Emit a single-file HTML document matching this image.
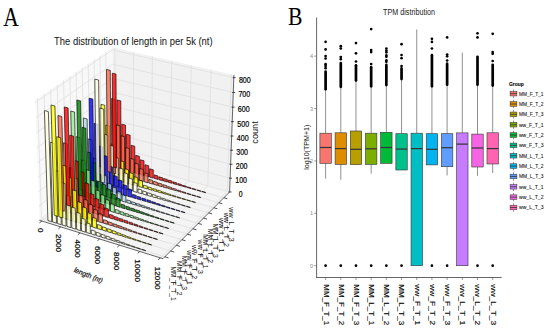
<!DOCTYPE html>
<html><head><meta charset="utf-8"><style>
html,body{margin:0;padding:0;background:#fff;}
body{width:550px;height:331px;overflow:hidden;position:relative;}
svg{position:absolute;left:0;top:0;font-family:"Liberation Sans",sans-serif;}
</style></head><body>
<svg width="550" height="331" viewBox="0 0 550 331">
<polygon points="39.43,220.28 113.23,159.94 112.47,47.35 35.21,99.76" fill="#f8f8f8"/>
<polygon points="113.23,159.94 229.61,191.98 233.93,74.98 112.47,47.35" fill="#f1f1f1"/>
<polygon points="39.43,220.28 162.95,258.66 229.61,191.98 113.23,159.94" fill="#f4f4f4"/>
<line x1="41.78" y1="221.00" x2="115.45" y2="160.55" stroke="#dddddd" stroke-width="0.75"/>
<line x1="115.45" y1="160.55" x2="114.78" y2="47.88" stroke="#dddddd" stroke-width="0.75"/>
<line x1="60.72" y1="226.89" x2="133.36" y2="165.48" stroke="#dddddd" stroke-width="0.75"/>
<line x1="133.36" y1="165.48" x2="133.44" y2="52.12" stroke="#dddddd" stroke-width="0.75"/>
<line x1="79.97" y1="232.87" x2="151.54" y2="170.49" stroke="#dddddd" stroke-width="0.75"/>
<line x1="151.54" y1="170.49" x2="152.40" y2="56.44" stroke="#dddddd" stroke-width="0.75"/>
<line x1="99.56" y1="238.96" x2="170.01" y2="175.57" stroke="#dddddd" stroke-width="0.75"/>
<line x1="170.01" y1="175.57" x2="171.67" y2="60.82" stroke="#dddddd" stroke-width="0.75"/>
<line x1="119.47" y1="245.15" x2="188.76" y2="180.73" stroke="#dddddd" stroke-width="0.75"/>
<line x1="188.76" y1="180.73" x2="191.25" y2="65.27" stroke="#dddddd" stroke-width="0.75"/>
<line x1="139.73" y1="251.45" x2="207.81" y2="185.98" stroke="#dddddd" stroke-width="0.75"/>
<line x1="207.81" y1="185.98" x2="211.15" y2="69.79" stroke="#dddddd" stroke-width="0.75"/>
<line x1="160.34" y1="257.85" x2="227.16" y2="191.31" stroke="#dddddd" stroke-width="0.75"/>
<line x1="227.16" y1="191.31" x2="231.38" y2="74.39" stroke="#dddddd" stroke-width="0.75"/>
<line x1="41.54" y1="218.56" x2="164.86" y2="256.75" stroke="#dddddd" stroke-width="0.75"/>
<line x1="41.54" y1="218.56" x2="37.43" y2="98.26" stroke="#dddddd" stroke-width="0.75"/>
<line x1="47.90" y1="213.35" x2="170.63" y2="250.98" stroke="#dddddd" stroke-width="0.75"/>
<line x1="47.90" y1="213.35" x2="44.11" y2="93.72" stroke="#dddddd" stroke-width="0.75"/>
<line x1="54.17" y1="208.22" x2="176.31" y2="245.29" stroke="#dddddd" stroke-width="0.75"/>
<line x1="54.17" y1="208.22" x2="50.69" y2="89.26" stroke="#dddddd" stroke-width="0.75"/>
<line x1="60.36" y1="203.17" x2="181.91" y2="239.69" stroke="#dddddd" stroke-width="0.75"/>
<line x1="60.36" y1="203.17" x2="57.18" y2="84.86" stroke="#dddddd" stroke-width="0.75"/>
<line x1="66.45" y1="198.18" x2="187.42" y2="234.18" stroke="#dddddd" stroke-width="0.75"/>
<line x1="66.45" y1="198.18" x2="63.57" y2="80.52" stroke="#dddddd" stroke-width="0.75"/>
<line x1="72.46" y1="193.27" x2="192.86" y2="228.74" stroke="#dddddd" stroke-width="0.75"/>
<line x1="72.46" y1="193.27" x2="69.87" y2="76.25" stroke="#dddddd" stroke-width="0.75"/>
<line x1="78.39" y1="188.42" x2="198.21" y2="223.38" stroke="#dddddd" stroke-width="0.75"/>
<line x1="78.39" y1="188.42" x2="76.07" y2="72.04" stroke="#dddddd" stroke-width="0.75"/>
<line x1="84.24" y1="183.64" x2="203.49" y2="218.10" stroke="#dddddd" stroke-width="0.75"/>
<line x1="84.24" y1="183.64" x2="82.19" y2="67.89" stroke="#dddddd" stroke-width="0.75"/>
<line x1="90.00" y1="178.93" x2="208.69" y2="212.90" stroke="#dddddd" stroke-width="0.75"/>
<line x1="90.00" y1="178.93" x2="88.22" y2="63.81" stroke="#dddddd" stroke-width="0.75"/>
<line x1="95.69" y1="174.28" x2="213.82" y2="207.77" stroke="#dddddd" stroke-width="0.75"/>
<line x1="95.69" y1="174.28" x2="94.16" y2="59.77" stroke="#dddddd" stroke-width="0.75"/>
<line x1="101.30" y1="169.69" x2="218.87" y2="202.72" stroke="#dddddd" stroke-width="0.75"/>
<line x1="101.30" y1="169.69" x2="100.02" y2="55.80" stroke="#dddddd" stroke-width="0.75"/>
<line x1="106.83" y1="165.17" x2="223.85" y2="197.73" stroke="#dddddd" stroke-width="0.75"/>
<line x1="106.83" y1="165.17" x2="105.80" y2="51.88" stroke="#dddddd" stroke-width="0.75"/>
<line x1="39.43" y1="220.28" x2="113.23" y2="159.94" stroke="#dddddd" stroke-width="0.75"/>
<line x1="113.23" y1="159.94" x2="229.61" y2="191.98" stroke="#dddddd" stroke-width="0.75"/>
<line x1="38.94" y1="206.11" x2="113.14" y2="146.66" stroke="#dddddd" stroke-width="0.75"/>
<line x1="113.14" y1="146.66" x2="230.11" y2="178.21" stroke="#dddddd" stroke-width="0.75"/>
<line x1="38.43" y1="191.80" x2="113.05" y2="133.26" stroke="#dddddd" stroke-width="0.75"/>
<line x1="113.05" y1="133.26" x2="230.63" y2="164.29" stroke="#dddddd" stroke-width="0.75"/>
<line x1="37.93" y1="177.32" x2="112.96" y2="119.72" stroke="#dddddd" stroke-width="0.75"/>
<line x1="112.96" y1="119.72" x2="231.15" y2="150.23" stroke="#dddddd" stroke-width="0.75"/>
<line x1="37.42" y1="162.69" x2="112.87" y2="106.04" stroke="#dddddd" stroke-width="0.75"/>
<line x1="112.87" y1="106.04" x2="231.67" y2="136.02" stroke="#dddddd" stroke-width="0.75"/>
<line x1="36.90" y1="147.90" x2="112.77" y2="92.22" stroke="#dddddd" stroke-width="0.75"/>
<line x1="112.77" y1="92.22" x2="232.21" y2="121.66" stroke="#dddddd" stroke-width="0.75"/>
<line x1="36.38" y1="132.94" x2="112.68" y2="78.27" stroke="#dddddd" stroke-width="0.75"/>
<line x1="112.68" y1="78.27" x2="232.74" y2="107.15" stroke="#dddddd" stroke-width="0.75"/>
<line x1="35.85" y1="117.82" x2="112.58" y2="64.17" stroke="#dddddd" stroke-width="0.75"/>
<line x1="112.58" y1="64.17" x2="233.28" y2="92.49" stroke="#dddddd" stroke-width="0.75"/>
<line x1="35.31" y1="102.53" x2="112.49" y2="49.93" stroke="#dddddd" stroke-width="0.75"/>
<line x1="112.49" y1="49.93" x2="233.83" y2="77.66" stroke="#dddddd" stroke-width="0.75"/>
<polygon points="135.67,173.19 139.35,174.22 139.40,156.29 135.70,155.29" fill="#ff0000" fill-opacity="0.8" stroke="#000" stroke-width="0.7" stroke-opacity="0.9" stroke-linejoin="round"/>
<polygon points="140.28,174.47 143.97,175.50 144.04,160.79 140.32,159.78" fill="#ff0000" fill-opacity="0.8" stroke="#000" stroke-width="0.7" stroke-opacity="0.9" stroke-linejoin="round"/>
<polygon points="144.90,175.76 148.61,176.79 148.68,165.76 144.95,164.74" fill="#ff0000" fill-opacity="0.8" stroke="#000" stroke-width="0.7" stroke-opacity="0.9" stroke-linejoin="round"/>
<polygon points="154.20,178.35 157.93,179.39 157.97,175.89 154.23,174.86" fill="#ff0000" fill-opacity="0.8" stroke="#000" stroke-width="0.7" stroke-opacity="0.9" stroke-linejoin="round"/>
<polygon points="149.54,177.05 153.26,178.09 153.33,169.81 149.60,168.78" fill="#ff0000" fill-opacity="0.8" stroke="#000" stroke-width="0.7" stroke-opacity="0.9" stroke-linejoin="round"/>
<polygon points="131.08,171.92 134.75,172.94 134.78,146.23 131.08,145.24" fill="#ff0000" fill-opacity="0.8" stroke="#000" stroke-width="0.7" stroke-opacity="0.9" stroke-linejoin="round"/>
<polygon points="158.88,179.65 162.63,180.69 162.66,177.84 158.90,176.80" fill="#ff0000" fill-opacity="0.8" stroke="#000" stroke-width="0.7" stroke-opacity="0.9" stroke-linejoin="round"/>
<polygon points="126.52,170.65 130.17,171.66 130.15,135.21 126.45,134.24" fill="#ff0000" fill-opacity="0.8" stroke="#000" stroke-width="0.7" stroke-opacity="0.9" stroke-linejoin="round"/>
<polygon points="163.57,180.96 167.34,182.01 167.37,179.52 163.60,178.47" fill="#ff0000" fill-opacity="0.8" stroke="#000" stroke-width="0.7" stroke-opacity="0.9" stroke-linejoin="round"/>
<polygon points="168.28,182.27 172.07,183.32 172.10,181.11 168.31,180.06" fill="#ff0000" fill-opacity="0.8" stroke="#000" stroke-width="0.7" stroke-opacity="0.9" stroke-linejoin="round"/>
<polygon points="121.96,169.38 125.60,170.39 125.50,125.09 121.80,124.13" fill="#ff0000" fill-opacity="0.8" stroke="#000" stroke-width="0.7" stroke-opacity="0.9" stroke-linejoin="round"/>
<polygon points="130.27,177.83 133.96,178.87 133.98,159.41 130.26,158.39" fill="#fb6a4e" fill-opacity="0.8" stroke="#000" stroke-width="0.7" stroke-opacity="0.9" stroke-linejoin="round"/>
<polygon points="134.89,179.13 138.60,180.17 138.64,164.20 134.91,163.18" fill="#fb6a4e" fill-opacity="0.8" stroke="#000" stroke-width="0.7" stroke-opacity="0.9" stroke-linejoin="round"/>
<polygon points="139.53,180.43 143.26,181.48 143.31,169.50 139.57,168.47" fill="#fb6a4e" fill-opacity="0.8" stroke="#000" stroke-width="0.7" stroke-opacity="0.9" stroke-linejoin="round"/>
<polygon points="148.88,183.06 152.63,184.11 152.66,180.32 148.90,179.27" fill="#fb6a4e" fill-opacity="0.8" stroke="#000" stroke-width="0.7" stroke-opacity="0.9" stroke-linejoin="round"/>
<polygon points="173.02,183.59 176.81,184.64 176.84,182.89 173.04,181.83" fill="#ff0000" fill-opacity="0.8" stroke="#000" stroke-width="0.7" stroke-opacity="0.9" stroke-linejoin="round"/>
<polygon points="144.20,181.74 147.94,182.79 147.99,173.81 144.24,172.77" fill="#fb6a4e" fill-opacity="0.8" stroke="#000" stroke-width="0.7" stroke-opacity="0.9" stroke-linejoin="round"/>
<polygon points="153.58,184.38 157.34,185.44 157.37,182.34 153.60,181.28" fill="#fb6a4e" fill-opacity="0.8" stroke="#000" stroke-width="0.7" stroke-opacity="0.9" stroke-linejoin="round"/>
<polygon points="125.66,176.54 129.34,177.57 129.32,148.57 125.60,147.57" fill="#fb6a4e" fill-opacity="0.8" stroke="#000" stroke-width="0.7" stroke-opacity="0.9" stroke-linejoin="round"/>
<polygon points="177.77,184.91 181.58,185.97 181.60,184.58 177.79,183.52" fill="#ff0000" fill-opacity="0.8" stroke="#000" stroke-width="0.7" stroke-opacity="0.9" stroke-linejoin="round"/>
<polygon points="158.29,185.70 162.08,186.76 162.11,184.06 158.32,183.00" fill="#fb6a4e" fill-opacity="0.8" stroke="#000" stroke-width="0.7" stroke-opacity="0.9" stroke-linejoin="round"/>
<polygon points="124.78,182.53 128.50,183.58 128.48,169.78 124.75,168.75" fill="#ffff00" fill-opacity="0.8" stroke="#000" stroke-width="0.7" stroke-opacity="0.9" stroke-linejoin="round"/>
<polygon points="182.54,186.24 186.36,187.30 186.38,186.28 182.56,185.22" fill="#ff0000" fill-opacity="0.8" stroke="#000" stroke-width="0.7" stroke-opacity="0.9" stroke-linejoin="round"/>
<polygon points="129.43,183.85 133.16,184.90 133.17,173.57 129.42,172.53" fill="#ffff00" fill-opacity="0.8" stroke="#000" stroke-width="0.7" stroke-opacity="0.9" stroke-linejoin="round"/>
<polygon points="121.07,175.25 124.73,176.28 124.64,136.68 120.91,135.70" fill="#fb6a4e" fill-opacity="0.8" stroke="#000" stroke-width="0.7" stroke-opacity="0.9" stroke-linejoin="round"/>
<polygon points="120.16,181.22 123.85,182.27 123.80,161.72 120.07,160.70" fill="#ffff00" fill-opacity="0.8" stroke="#000" stroke-width="0.7" stroke-opacity="0.9" stroke-linejoin="round"/>
<polygon points="134.10,185.17 137.84,186.23 137.86,177.73 134.11,176.68" fill="#ffff00" fill-opacity="0.8" stroke="#000" stroke-width="0.7" stroke-opacity="0.9" stroke-linejoin="round"/>
<polygon points="163.03,187.03 166.83,188.10 166.86,185.70 163.06,184.63" fill="#fb6a4e" fill-opacity="0.8" stroke="#000" stroke-width="0.7" stroke-opacity="0.9" stroke-linejoin="round"/>
<polygon points="187.33,187.57 191.17,188.64 191.18,187.89 187.34,186.83" fill="#ff0000" fill-opacity="0.8" stroke="#000" stroke-width="0.7" stroke-opacity="0.9" stroke-linejoin="round"/>
<polygon points="138.78,186.50 142.54,187.56 142.56,181.18 138.80,180.13" fill="#ffff00" fill-opacity="0.8" stroke="#000" stroke-width="0.7" stroke-opacity="0.9" stroke-linejoin="round"/>
<polygon points="115.55,179.91 119.23,180.95 119.10,152.94 115.38,151.92" fill="#ffff00" fill-opacity="0.8" stroke="#000" stroke-width="0.7" stroke-opacity="0.9" stroke-linejoin="round"/>
<polygon points="143.48,187.83 147.25,188.90 147.27,186.21 143.49,185.14" fill="#ffff00" fill-opacity="0.8" stroke="#000" stroke-width="0.7" stroke-opacity="0.9" stroke-linejoin="round"/>
<polygon points="117.43,168.12 121.05,169.13 120.79,100.89 117.07,99.97" fill="#ff0000" fill-opacity="0.8" stroke="#000" stroke-width="0.7" stroke-opacity="0.9" stroke-linejoin="round"/>
<polygon points="116.50,173.96 120.15,174.99 119.94,125.77 116.22,124.80" fill="#fb6a4e" fill-opacity="0.8" stroke="#000" stroke-width="0.7" stroke-opacity="0.9" stroke-linejoin="round"/>
<polygon points="167.78,188.37 171.60,189.44 171.63,187.53 167.81,186.46" fill="#fb6a4e" fill-opacity="0.8" stroke="#000" stroke-width="0.7" stroke-opacity="0.9" stroke-linejoin="round"/>
<polygon points="110.95,178.61 114.62,179.65 114.40,144.85 110.69,143.86" fill="#ffff00" fill-opacity="0.8" stroke="#000" stroke-width="0.7" stroke-opacity="0.9" stroke-linejoin="round"/>
<polygon points="192.13,188.91 195.99,189.98 196.00,189.42 192.15,188.35" fill="#ff0000" fill-opacity="0.8" stroke="#000" stroke-width="0.7" stroke-opacity="0.9" stroke-linejoin="round"/>
<polygon points="148.20,189.17 151.99,190.24 152.01,188.04 148.22,186.97" fill="#ffff00" fill-opacity="0.8" stroke="#000" stroke-width="0.7" stroke-opacity="0.9" stroke-linejoin="round"/>
<polygon points="172.56,189.71 176.39,190.78 176.41,189.28 172.58,188.20" fill="#fb6a4e" fill-opacity="0.8" stroke="#000" stroke-width="0.7" stroke-opacity="0.9" stroke-linejoin="round"/>
<polygon points="196.96,190.25 200.83,191.33 200.84,190.95 196.97,189.88" fill="#ff0000" fill-opacity="0.8" stroke="#000" stroke-width="0.7" stroke-opacity="0.9" stroke-linejoin="round"/>
<polygon points="152.94,190.51 156.74,191.59 156.76,189.67 152.96,188.60" fill="#ffff00" fill-opacity="0.8" stroke="#000" stroke-width="0.7" stroke-opacity="0.9" stroke-linejoin="round"/>
<polygon points="177.35,191.06 181.20,192.13 181.22,191.03 177.37,189.95" fill="#fb6a4e" fill-opacity="0.8" stroke="#000" stroke-width="0.7" stroke-opacity="0.9" stroke-linejoin="round"/>
<polygon points="201.81,191.60 205.69,192.68 205.70,192.40 201.82,191.32" fill="#ff0000" fill-opacity="0.8" stroke="#000" stroke-width="0.7" stroke-opacity="0.9" stroke-linejoin="round"/>
<polygon points="157.70,191.86 161.52,192.94 161.54,191.24 157.72,190.16" fill="#ffff00" fill-opacity="0.8" stroke="#000" stroke-width="0.7" stroke-opacity="0.9" stroke-linejoin="round"/>
<polygon points="182.16,192.41 186.02,193.49 186.04,192.69 182.18,191.60" fill="#fb6a4e" fill-opacity="0.8" stroke="#000" stroke-width="0.7" stroke-opacity="0.9" stroke-linejoin="round"/>
<polygon points="119.23,187.30 122.96,188.36 122.90,168.97 119.14,167.93" fill="#ffffe0" fill-opacity="0.8" stroke="#000" stroke-width="0.7" stroke-opacity="0.9" stroke-linejoin="round"/>
<polygon points="106.38,177.31 110.03,178.35 109.61,126.04 105.89,125.07" fill="#ffff00" fill-opacity="0.8" stroke="#000" stroke-width="0.7" stroke-opacity="0.9" stroke-linejoin="round"/>
<polygon points="123.90,188.63 127.64,189.70 127.62,173.79 123.85,172.74" fill="#ffffe0" fill-opacity="0.8" stroke="#000" stroke-width="0.7" stroke-opacity="0.9" stroke-linejoin="round"/>
<polygon points="128.58,189.97 132.34,191.05 132.35,179.11 128.57,178.05" fill="#ffffe0" fill-opacity="0.8" stroke="#000" stroke-width="0.7" stroke-opacity="0.9" stroke-linejoin="round"/>
<polygon points="162.48,193.22 166.31,194.30 166.33,192.95 162.49,191.86" fill="#ffff00" fill-opacity="0.8" stroke="#000" stroke-width="0.7" stroke-opacity="0.9" stroke-linejoin="round"/>
<polygon points="138.01,192.67 141.80,193.76 141.82,189.98 138.02,188.90" fill="#ffffe0" fill-opacity="0.8" stroke="#000" stroke-width="0.7" stroke-opacity="0.9" stroke-linejoin="round"/>
<polygon points="133.29,191.32 137.06,192.40 137.08,183.45 133.29,182.38" fill="#ffffe0" fill-opacity="0.8" stroke="#000" stroke-width="0.7" stroke-opacity="0.9" stroke-linejoin="round"/>
<polygon points="186.99,193.76 190.87,194.85 190.88,194.25 187.01,193.16" fill="#fb6a4e" fill-opacity="0.8" stroke="#000" stroke-width="0.7" stroke-opacity="0.9" stroke-linejoin="round"/>
<polygon points="114.58,185.96 118.29,187.03 118.15,158.13 114.40,157.10" fill="#ffffe0" fill-opacity="0.8" stroke="#000" stroke-width="0.7" stroke-opacity="0.9" stroke-linejoin="round"/>
<polygon points="142.76,194.03 146.56,195.12 146.58,192.03 142.77,190.95" fill="#ffffe0" fill-opacity="0.8" stroke="#000" stroke-width="0.7" stroke-opacity="0.9" stroke-linejoin="round"/>
<polygon points="167.28,194.58 171.12,195.67 171.14,194.60 167.29,193.51" fill="#ffff00" fill-opacity="0.8" stroke="#000" stroke-width="0.7" stroke-opacity="0.9" stroke-linejoin="round"/>
<polygon points="111.94,172.68 115.58,173.70 115.14,99.51 111.40,98.58" fill="#fb6a4e" fill-opacity="0.8" stroke="#000" stroke-width="0.7" stroke-opacity="0.9" stroke-linejoin="round"/>
<polygon points="112.91,166.86 116.52,167.86 116.00,74.05 112.27,73.16" fill="#ff0000" fill-opacity="0.8" stroke="#000" stroke-width="0.7" stroke-opacity="0.9" stroke-linejoin="round"/>
<polygon points="191.85,195.13 195.74,196.22 195.75,195.81 191.85,194.72" fill="#fb6a4e" fill-opacity="0.8" stroke="#000" stroke-width="0.7" stroke-opacity="0.9" stroke-linejoin="round"/>
<polygon points="147.52,195.39 151.34,196.49 151.36,193.79 147.53,192.70" fill="#ffffe0" fill-opacity="0.8" stroke="#000" stroke-width="0.7" stroke-opacity="0.9" stroke-linejoin="round"/>
<polygon points="172.09,195.94 175.95,197.04 175.97,196.25 172.10,195.16" fill="#ffff00" fill-opacity="0.8" stroke="#000" stroke-width="0.7" stroke-opacity="0.9" stroke-linejoin="round"/>
<polygon points="109.95,184.64 113.65,185.70 113.38,146.24 109.63,145.23" fill="#ffffe0" fill-opacity="0.8" stroke="#000" stroke-width="0.7" stroke-opacity="0.9" stroke-linejoin="round"/>
<polygon points="196.72,196.49 200.62,197.59 200.63,197.29 196.72,196.19" fill="#fb6a4e" fill-opacity="0.8" stroke="#000" stroke-width="0.7" stroke-opacity="0.9" stroke-linejoin="round"/>
<polygon points="113.59,192.13 117.34,193.21 117.25,176.48 113.48,175.42" fill="#0000ff" fill-opacity="0.8" stroke="#000" stroke-width="0.7" stroke-opacity="0.9" stroke-linejoin="round"/>
<polygon points="152.30,196.76 156.13,197.86 156.16,195.46 152.32,194.37" fill="#ffffe0" fill-opacity="0.8" stroke="#000" stroke-width="0.7" stroke-opacity="0.9" stroke-linejoin="round"/>
<polygon points="118.28,193.48 122.04,194.57 122.00,180.84 118.22,179.77" fill="#0000ff" fill-opacity="0.8" stroke="#000" stroke-width="0.7" stroke-opacity="0.9" stroke-linejoin="round"/>
<polygon points="176.93,197.31 180.81,198.41 180.82,197.84 176.94,196.74" fill="#ffff00" fill-opacity="0.8" stroke="#000" stroke-width="0.7" stroke-opacity="0.9" stroke-linejoin="round"/>
<polygon points="122.99,194.84 126.77,195.93 126.75,185.63 122.96,184.55" fill="#0000ff" fill-opacity="0.8" stroke="#000" stroke-width="0.7" stroke-opacity="0.9" stroke-linejoin="round"/>
<polygon points="101.82,176.02 105.46,177.05 104.77,105.29 101.03,104.34" fill="#ffff00" fill-opacity="0.8" stroke="#000" stroke-width="0.7" stroke-opacity="0.9" stroke-linejoin="round"/>
<polygon points="108.92,190.78 112.65,191.86 112.48,166.94 108.71,165.89" fill="#0000ff" fill-opacity="0.8" stroke="#000" stroke-width="0.7" stroke-opacity="0.9" stroke-linejoin="round"/>
<polygon points="132.46,197.58 136.27,198.68 136.28,195.42 132.47,194.32" fill="#0000ff" fill-opacity="0.8" stroke="#000" stroke-width="0.7" stroke-opacity="0.9" stroke-linejoin="round"/>
<polygon points="105.33,183.32 109.02,184.37 108.61,135.33 104.85,134.33" fill="#ffffe0" fill-opacity="0.8" stroke="#000" stroke-width="0.7" stroke-opacity="0.9" stroke-linejoin="round"/>
<polygon points="127.72,196.21 131.51,197.30 131.51,189.58 127.71,188.49" fill="#0000ff" fill-opacity="0.8" stroke="#000" stroke-width="0.7" stroke-opacity="0.9" stroke-linejoin="round"/>
<polygon points="157.10,198.13 160.95,199.24 160.97,197.34 157.12,196.24" fill="#ffffe0" fill-opacity="0.8" stroke="#000" stroke-width="0.7" stroke-opacity="0.9" stroke-linejoin="round"/>
<polygon points="181.78,198.69 185.68,199.79 185.68,199.36 181.79,198.26" fill="#ffff00" fill-opacity="0.8" stroke="#000" stroke-width="0.7" stroke-opacity="0.9" stroke-linejoin="round"/>
<polygon points="137.23,198.96 141.05,200.06 141.06,197.40 137.24,196.30" fill="#0000ff" fill-opacity="0.8" stroke="#000" stroke-width="0.7" stroke-opacity="0.9" stroke-linejoin="round"/>
<polygon points="104.27,189.43 107.99,190.51 107.69,156.50 103.92,155.47" fill="#0000ff" fill-opacity="0.8" stroke="#000" stroke-width="0.7" stroke-opacity="0.9" stroke-linejoin="round"/>
<polygon points="161.92,199.51 165.78,200.62 165.80,199.12 161.94,198.01" fill="#ffffe0" fill-opacity="0.8" stroke="#000" stroke-width="0.7" stroke-opacity="0.9" stroke-linejoin="round"/>
<polygon points="186.66,200.07 190.57,201.18 190.57,200.89 186.66,199.79" fill="#ffff00" fill-opacity="0.8" stroke="#000" stroke-width="0.7" stroke-opacity="0.9" stroke-linejoin="round"/>
<polygon points="142.01,200.34 145.85,201.45 145.87,199.12 142.02,198.02" fill="#0000ff" fill-opacity="0.8" stroke="#000" stroke-width="0.7" stroke-opacity="0.9" stroke-linejoin="round"/>
<polygon points="107.88,197.03 111.64,198.13 111.54,184.22 107.76,183.14" fill="#add8e6" fill-opacity="0.8" stroke="#000" stroke-width="0.7" stroke-opacity="0.9" stroke-linejoin="round"/>
<polygon points="99.64,188.09 103.34,189.16 102.89,146.92 99.13,145.90" fill="#0000ff" fill-opacity="0.8" stroke="#000" stroke-width="0.7" stroke-opacity="0.9" stroke-linejoin="round"/>
<polygon points="166.76,200.90 170.64,202.01 170.66,200.91 166.77,199.80" fill="#ffffe0" fill-opacity="0.8" stroke="#000" stroke-width="0.7" stroke-opacity="0.9" stroke-linejoin="round"/>
<polygon points="112.59,198.40 116.37,199.50 116.30,188.09 112.51,187.00" fill="#add8e6" fill-opacity="0.8" stroke="#000" stroke-width="0.7" stroke-opacity="0.9" stroke-linejoin="round"/>
<polygon points="191.55,201.46 195.48,202.57 195.48,202.36 191.56,201.24" fill="#ffff00" fill-opacity="0.8" stroke="#000" stroke-width="0.7" stroke-opacity="0.9" stroke-linejoin="round"/>
<polygon points="103.19,195.66 106.94,196.75 106.74,176.05 102.97,174.98" fill="#add8e6" fill-opacity="0.8" stroke="#000" stroke-width="0.7" stroke-opacity="0.9" stroke-linejoin="round"/>
<polygon points="117.32,199.78 121.11,200.89 121.08,192.32 117.28,191.22" fill="#add8e6" fill-opacity="0.8" stroke="#000" stroke-width="0.7" stroke-opacity="0.9" stroke-linejoin="round"/>
<polygon points="146.82,201.73 150.67,202.84 150.69,200.77 146.83,199.66" fill="#0000ff" fill-opacity="0.8" stroke="#000" stroke-width="0.7" stroke-opacity="0.9" stroke-linejoin="round"/>
<polygon points="171.62,202.29 175.51,203.41 175.53,202.60 171.63,201.49" fill="#ffffe0" fill-opacity="0.8" stroke="#000" stroke-width="0.7" stroke-opacity="0.9" stroke-linejoin="round"/>
<polygon points="107.40,171.41 111.03,172.43 110.25,70.34 106.49,69.44" fill="#fb6a4e" fill-opacity="0.8" stroke="#000" stroke-width="0.7" stroke-opacity="0.9" stroke-linejoin="round"/>
<polygon points="98.51,194.29 102.25,195.38 101.94,167.14 98.16,166.09" fill="#add8e6" fill-opacity="0.8" stroke="#000" stroke-width="0.7" stroke-opacity="0.9" stroke-linejoin="round"/>
<polygon points="122.07,201.17 125.88,202.28 125.87,195.85 122.05,194.75" fill="#add8e6" fill-opacity="0.8" stroke="#000" stroke-width="0.7" stroke-opacity="0.9" stroke-linejoin="round"/>
<polygon points="126.84,202.56 130.66,203.67 130.66,200.96 126.83,199.85" fill="#add8e6" fill-opacity="0.8" stroke="#000" stroke-width="0.7" stroke-opacity="0.9" stroke-linejoin="round"/>
<polygon points="151.64,203.12 155.51,204.24 155.53,202.60 151.65,201.48" fill="#0000ff" fill-opacity="0.8" stroke="#000" stroke-width="0.7" stroke-opacity="0.9" stroke-linejoin="round"/>
<polygon points="93.86,192.94 97.58,194.02 97.13,158.95 93.36,157.91" fill="#add8e6" fill-opacity="0.8" stroke="#000" stroke-width="0.7" stroke-opacity="0.9" stroke-linejoin="round"/>
<polygon points="176.50,203.69 180.41,204.81 180.42,204.20 176.51,203.08" fill="#ffffe0" fill-opacity="0.8" stroke="#000" stroke-width="0.7" stroke-opacity="0.9" stroke-linejoin="round"/>
<polygon points="131.63,203.96 135.47,205.08 135.47,202.86 131.63,201.74" fill="#add8e6" fill-opacity="0.8" stroke="#000" stroke-width="0.7" stroke-opacity="0.9" stroke-linejoin="round"/>
<polygon points="156.49,204.52 160.37,205.64 160.38,204.35 156.50,203.23" fill="#0000ff" fill-opacity="0.8" stroke="#000" stroke-width="0.7" stroke-opacity="0.9" stroke-linejoin="round"/>
<polygon points="100.74,182.00 104.41,183.05 103.66,109.12 99.89,108.16" fill="#ffffe0" fill-opacity="0.8" stroke="#000" stroke-width="0.7" stroke-opacity="0.9" stroke-linejoin="round"/>
<polygon points="181.39,205.09 185.32,206.21 185.33,205.81 181.40,204.69" fill="#ffffe0" fill-opacity="0.8" stroke="#000" stroke-width="0.7" stroke-opacity="0.9" stroke-linejoin="round"/>
<polygon points="136.43,205.36 140.29,206.48 140.30,204.55 136.44,203.43" fill="#add8e6" fill-opacity="0.8" stroke="#000" stroke-width="0.7" stroke-opacity="0.9" stroke-linejoin="round"/>
<polygon points="161.35,205.93 165.25,207.05 165.26,206.10 161.36,204.98" fill="#0000ff" fill-opacity="0.8" stroke="#000" stroke-width="0.7" stroke-opacity="0.9" stroke-linejoin="round"/>
<polygon points="95.02,186.76 98.71,187.83 97.93,124.22 94.15,123.24" fill="#0000ff" fill-opacity="0.8" stroke="#000" stroke-width="0.7" stroke-opacity="0.9" stroke-linejoin="round"/>
<polygon points="186.31,206.50 190.26,207.62 190.26,207.32 186.32,206.19" fill="#ffffe0" fill-opacity="0.8" stroke="#000" stroke-width="0.7" stroke-opacity="0.9" stroke-linejoin="round"/>
<polygon points="141.26,206.77 145.13,207.90 145.14,206.17 141.27,205.05" fill="#add8e6" fill-opacity="0.8" stroke="#000" stroke-width="0.7" stroke-opacity="0.9" stroke-linejoin="round"/>
<polygon points="102.08,202.00 105.87,203.11 105.69,184.92 101.88,183.83" fill="#008000" fill-opacity="0.8" stroke="#000" stroke-width="0.7" stroke-opacity="0.9" stroke-linejoin="round"/>
<polygon points="166.23,207.34 170.15,208.47 170.16,207.78 166.24,206.64" fill="#0000ff" fill-opacity="0.8" stroke="#000" stroke-width="0.7" stroke-opacity="0.9" stroke-linejoin="round"/>
<polygon points="106.82,203.39 110.61,204.51 110.50,189.58 106.68,188.48" fill="#008000" fill-opacity="0.8" stroke="#000" stroke-width="0.7" stroke-opacity="0.9" stroke-linejoin="round"/>
<polygon points="89.22,191.58 92.93,192.66 92.16,139.94 88.39,138.92" fill="#add8e6" fill-opacity="0.8" stroke="#000" stroke-width="0.7" stroke-opacity="0.9" stroke-linejoin="round"/>
<polygon points="111.57,204.79 115.38,205.91 115.31,194.72 111.49,193.61" fill="#008000" fill-opacity="0.8" stroke="#000" stroke-width="0.7" stroke-opacity="0.9" stroke-linejoin="round"/>
<polygon points="121.13,207.61 124.98,208.74 124.97,205.19 121.12,204.07" fill="#008000" fill-opacity="0.8" stroke="#000" stroke-width="0.7" stroke-opacity="0.9" stroke-linejoin="round"/>
<polygon points="146.11,208.18 149.99,209.31 150.00,207.95 146.11,206.82" fill="#add8e6" fill-opacity="0.8" stroke="#000" stroke-width="0.7" stroke-opacity="0.9" stroke-linejoin="round"/>
<polygon points="116.34,206.20 120.17,207.32 120.13,198.92 116.29,197.80" fill="#008000" fill-opacity="0.8" stroke="#000" stroke-width="0.7" stroke-opacity="0.9" stroke-linejoin="round"/>
<polygon points="97.37,200.61 101.14,201.72 100.83,174.62 97.02,173.54" fill="#008000" fill-opacity="0.8" stroke="#000" stroke-width="0.7" stroke-opacity="0.9" stroke-linejoin="round"/>
<polygon points="171.13,208.75 175.07,209.89 175.07,209.37 171.14,208.23" fill="#0000ff" fill-opacity="0.8" stroke="#000" stroke-width="0.7" stroke-opacity="0.9" stroke-linejoin="round"/>
<polygon points="125.94,209.03 129.80,210.16 129.80,207.27 125.94,206.13" fill="#008000" fill-opacity="0.8" stroke="#000" stroke-width="0.7" stroke-opacity="0.9" stroke-linejoin="round"/>
<polygon points="150.97,209.60 154.88,210.74 154.89,209.66 150.98,208.52" fill="#add8e6" fill-opacity="0.8" stroke="#000" stroke-width="0.7" stroke-opacity="0.9" stroke-linejoin="round"/>
<polygon points="176.06,210.18 180.00,211.32 180.01,210.97 176.06,209.83" fill="#0000ff" fill-opacity="0.8" stroke="#000" stroke-width="0.7" stroke-opacity="0.9" stroke-linejoin="round"/>
<polygon points="92.68,199.22 96.43,200.33 95.94,163.33 92.14,162.27" fill="#008000" fill-opacity="0.8" stroke="#000" stroke-width="0.7" stroke-opacity="0.9" stroke-linejoin="round"/>
<polygon points="130.77,210.45 134.65,211.59 134.65,209.06 130.77,207.92" fill="#008000" fill-opacity="0.8" stroke="#000" stroke-width="0.7" stroke-opacity="0.9" stroke-linejoin="round"/>
<polygon points="155.86,211.03 159.78,212.17 159.79,211.38 155.87,210.23" fill="#add8e6" fill-opacity="0.8" stroke="#000" stroke-width="0.7" stroke-opacity="0.9" stroke-linejoin="round"/>
<polygon points="181.00,211.60 184.96,212.75 184.97,212.49 181.00,211.34" fill="#0000ff" fill-opacity="0.8" stroke="#000" stroke-width="0.7" stroke-opacity="0.9" stroke-linejoin="round"/>
<polygon points="96.21,207.04 100.01,208.17 99.80,191.12 95.98,190.01" fill="#90ee90" fill-opacity="0.8" stroke="#000" stroke-width="0.7" stroke-opacity="0.9" stroke-linejoin="round"/>
<polygon points="88.00,197.85 91.74,198.95 91.05,152.97 87.25,151.93" fill="#008000" fill-opacity="0.8" stroke="#000" stroke-width="0.7" stroke-opacity="0.9" stroke-linejoin="round"/>
<polygon points="135.62,211.88 139.51,213.02 139.52,210.77 135.63,209.63" fill="#008000" fill-opacity="0.8" stroke="#000" stroke-width="0.7" stroke-opacity="0.9" stroke-linejoin="round"/>
<polygon points="96.16,180.69 99.82,181.74 98.61,80.01 94.82,79.09" fill="#ffffe0" fill-opacity="0.8" stroke="#000" stroke-width="0.7" stroke-opacity="0.9" stroke-linejoin="round"/>
<polygon points="100.96,208.45 104.78,209.59 104.64,195.59 100.80,194.48" fill="#90ee90" fill-opacity="0.8" stroke="#000" stroke-width="0.7" stroke-opacity="0.9" stroke-linejoin="round"/>
<polygon points="160.77,212.46 164.70,213.61 164.71,213.03 160.77,211.88" fill="#add8e6" fill-opacity="0.8" stroke="#000" stroke-width="0.7" stroke-opacity="0.9" stroke-linejoin="round"/>
<polygon points="90.42,185.43 94.10,186.49 92.87,99.10 89.08,98.14" fill="#0000ff" fill-opacity="0.8" stroke="#000" stroke-width="0.7" stroke-opacity="0.9" stroke-linejoin="round"/>
<polygon points="105.74,209.87 109.57,211.01 109.48,200.51 105.63,199.39" fill="#90ee90" fill-opacity="0.8" stroke="#000" stroke-width="0.7" stroke-opacity="0.9" stroke-linejoin="round"/>
<polygon points="84.60,190.24 88.29,191.31 87.12,118.97 83.33,117.98" fill="#add8e6" fill-opacity="0.8" stroke="#000" stroke-width="0.7" stroke-opacity="0.9" stroke-linejoin="round"/>
<polygon points="91.47,205.63 95.25,206.75 94.91,181.36 91.09,180.26" fill="#90ee90" fill-opacity="0.8" stroke="#000" stroke-width="0.7" stroke-opacity="0.9" stroke-linejoin="round"/>
<polygon points="115.34,212.73 119.20,213.88 119.19,210.55 115.32,209.41" fill="#90ee90" fill-opacity="0.8" stroke="#000" stroke-width="0.7" stroke-opacity="0.9" stroke-linejoin="round"/>
<polygon points="110.53,211.30 114.38,212.44 114.32,204.57 110.47,203.43" fill="#90ee90" fill-opacity="0.8" stroke="#000" stroke-width="0.7" stroke-opacity="0.9" stroke-linejoin="round"/>
<polygon points="140.49,213.31 144.40,214.46 144.41,212.68 140.50,211.53" fill="#008000" fill-opacity="0.8" stroke="#000" stroke-width="0.7" stroke-opacity="0.9" stroke-linejoin="round"/>
<polygon points="165.69,213.89 169.64,215.05 169.65,214.61 165.70,213.46" fill="#add8e6" fill-opacity="0.8" stroke="#000" stroke-width="0.7" stroke-opacity="0.9" stroke-linejoin="round"/>
<polygon points="120.18,214.17 124.05,215.32 124.05,212.61 120.17,211.46" fill="#90ee90" fill-opacity="0.8" stroke="#000" stroke-width="0.7" stroke-opacity="0.9" stroke-linejoin="round"/>
<polygon points="86.76,204.22 90.52,205.35 89.99,170.69 86.17,169.61" fill="#90ee90" fill-opacity="0.8" stroke="#000" stroke-width="0.7" stroke-opacity="0.9" stroke-linejoin="round"/>
<polygon points="145.38,214.75 149.31,215.91 149.31,214.50 145.39,213.34" fill="#008000" fill-opacity="0.8" stroke="#000" stroke-width="0.7" stroke-opacity="0.9" stroke-linejoin="round"/>
<polygon points="170.64,215.34 174.61,216.50 174.61,216.21 170.64,215.05" fill="#add8e6" fill-opacity="0.8" stroke="#000" stroke-width="0.7" stroke-opacity="0.9" stroke-linejoin="round"/>
<polygon points="125.03,215.61 128.92,216.77 128.92,214.40 125.02,213.25" fill="#90ee90" fill-opacity="0.8" stroke="#000" stroke-width="0.7" stroke-opacity="0.9" stroke-linejoin="round"/>
<polygon points="82.06,202.83 85.81,203.94 85.07,160.88 81.26,159.82" fill="#90ee90" fill-opacity="0.8" stroke="#000" stroke-width="0.7" stroke-opacity="0.9" stroke-linejoin="round"/>
<polygon points="150.29,216.20 154.23,217.36 154.24,216.32 150.30,215.17" fill="#008000" fill-opacity="0.8" stroke="#000" stroke-width="0.7" stroke-opacity="0.9" stroke-linejoin="round"/>
<polygon points="175.61,216.79 179.59,217.95 179.60,217.73 175.61,216.57" fill="#add8e6" fill-opacity="0.8" stroke="#000" stroke-width="0.7" stroke-opacity="0.9" stroke-linejoin="round"/>
<polygon points="129.90,217.06 133.81,218.23 133.81,216.12 129.90,214.96" fill="#90ee90" fill-opacity="0.8" stroke="#000" stroke-width="0.7" stroke-opacity="0.9" stroke-linejoin="round"/>
<polygon points="90.25,212.15 94.06,213.30 93.80,194.55 89.95,193.43" fill="#ff0000" fill-opacity="0.8" stroke="#000" stroke-width="0.7" stroke-opacity="0.9" stroke-linejoin="round"/>
<polygon points="155.22,217.65 159.18,218.82 159.19,218.06 155.23,216.90" fill="#008000" fill-opacity="0.8" stroke="#000" stroke-width="0.7" stroke-opacity="0.9" stroke-linejoin="round"/>
<polygon points="95.02,213.59 98.85,214.74 98.66,199.35 94.81,198.22" fill="#ff0000" fill-opacity="0.8" stroke="#000" stroke-width="0.7" stroke-opacity="0.9" stroke-linejoin="round"/>
<polygon points="99.82,215.03 103.67,216.18 103.54,204.65 99.68,203.50" fill="#ff0000" fill-opacity="0.8" stroke="#000" stroke-width="0.7" stroke-opacity="0.9" stroke-linejoin="round"/>
<polygon points="83.34,196.47 87.06,197.57 85.91,128.30 82.09,127.29" fill="#008000" fill-opacity="0.8" stroke="#000" stroke-width="0.7" stroke-opacity="0.9" stroke-linejoin="round"/>
<polygon points="109.47,217.93 113.35,219.09 113.33,215.44 109.44,214.28" fill="#ff0000" fill-opacity="0.8" stroke="#000" stroke-width="0.7" stroke-opacity="0.9" stroke-linejoin="round"/>
<polygon points="134.80,218.52 138.72,219.69 138.73,218.01 134.80,216.85" fill="#90ee90" fill-opacity="0.8" stroke="#000" stroke-width="0.7" stroke-opacity="0.9" stroke-linejoin="round"/>
<polygon points="104.63,216.47 108.50,217.63 108.42,208.98 104.55,207.83" fill="#ff0000" fill-opacity="0.8" stroke="#000" stroke-width="0.7" stroke-opacity="0.9" stroke-linejoin="round"/>
<polygon points="160.17,219.11 164.15,220.28 164.15,219.71 160.18,218.54" fill="#008000" fill-opacity="0.8" stroke="#000" stroke-width="0.7" stroke-opacity="0.9" stroke-linejoin="round"/>
<polygon points="85.49,210.72 89.29,211.86 88.84,183.93 85.00,182.83" fill="#ff0000" fill-opacity="0.8" stroke="#000" stroke-width="0.7" stroke-opacity="0.9" stroke-linejoin="round"/>
<polygon points="114.33,219.39 118.22,220.56 118.21,217.57 114.31,216.41" fill="#ff0000" fill-opacity="0.8" stroke="#000" stroke-width="0.7" stroke-opacity="0.9" stroke-linejoin="round"/>
<polygon points="139.71,219.98 143.65,221.15 143.66,219.83 139.71,218.66" fill="#90ee90" fill-opacity="0.8" stroke="#000" stroke-width="0.7" stroke-opacity="0.9" stroke-linejoin="round"/>
<polygon points="165.15,220.57 169.13,221.75 169.14,221.37 165.15,220.20" fill="#008000" fill-opacity="0.8" stroke="#000" stroke-width="0.7" stroke-opacity="0.9" stroke-linejoin="round"/>
<polygon points="80.75,209.30 84.54,210.43 83.86,172.31 80.02,171.22" fill="#ff0000" fill-opacity="0.8" stroke="#000" stroke-width="0.7" stroke-opacity="0.9" stroke-linejoin="round"/>
<polygon points="119.20,220.85 123.12,222.03 123.11,219.42 119.19,218.25" fill="#ff0000" fill-opacity="0.8" stroke="#000" stroke-width="0.7" stroke-opacity="0.9" stroke-linejoin="round"/>
<polygon points="144.64,221.45 148.60,222.63 148.61,221.66 144.65,220.48" fill="#90ee90" fill-opacity="0.8" stroke="#000" stroke-width="0.7" stroke-opacity="0.9" stroke-linejoin="round"/>
<polygon points="77.38,201.44 81.12,202.55 79.89,137.71 76.06,136.67" fill="#90ee90" fill-opacity="0.8" stroke="#000" stroke-width="0.7" stroke-opacity="0.9" stroke-linejoin="round"/>
<polygon points="170.14,222.05 174.14,223.23 174.15,222.94 170.14,221.76" fill="#008000" fill-opacity="0.8" stroke="#000" stroke-width="0.7" stroke-opacity="0.9" stroke-linejoin="round"/>
<polygon points="84.20,217.34 88.03,218.50 87.73,200.41 83.87,199.27" fill="#fb6a4e" fill-opacity="0.8" stroke="#000" stroke-width="0.7" stroke-opacity="0.9" stroke-linejoin="round"/>
<polygon points="124.10,222.32 128.03,223.50 128.03,221.19 124.09,220.01" fill="#ff0000" fill-opacity="0.8" stroke="#000" stroke-width="0.7" stroke-opacity="0.9" stroke-linejoin="round"/>
<polygon points="76.03,207.88 79.80,209.01 78.88,161.62 75.04,160.55" fill="#ff0000" fill-opacity="0.8" stroke="#000" stroke-width="0.7" stroke-opacity="0.9" stroke-linejoin="round"/>
<polygon points="149.60,222.92 153.57,224.10 153.58,223.40 149.60,222.22" fill="#90ee90" fill-opacity="0.8" stroke="#000" stroke-width="0.7" stroke-opacity="0.9" stroke-linejoin="round"/>
<polygon points="89.00,218.79 92.85,219.96 92.63,205.11 88.76,203.96" fill="#fb6a4e" fill-opacity="0.8" stroke="#000" stroke-width="0.7" stroke-opacity="0.9" stroke-linejoin="round"/>
<polygon points="93.81,220.26 97.68,221.43 97.54,210.29 93.66,209.13" fill="#fb6a4e" fill-opacity="0.8" stroke="#000" stroke-width="0.7" stroke-opacity="0.9" stroke-linejoin="round"/>
<polygon points="103.51,223.20 107.41,224.38 107.38,220.85 103.48,219.68" fill="#fb6a4e" fill-opacity="0.8" stroke="#000" stroke-width="0.7" stroke-opacity="0.9" stroke-linejoin="round"/>
<polygon points="98.65,221.72 102.54,222.90 102.44,214.55 98.55,213.38" fill="#fb6a4e" fill-opacity="0.8" stroke="#000" stroke-width="0.7" stroke-opacity="0.9" stroke-linejoin="round"/>
<polygon points="129.02,223.80 132.96,224.99 132.96,223.15 129.02,221.97" fill="#ff0000" fill-opacity="0.8" stroke="#000" stroke-width="0.7" stroke-opacity="0.9" stroke-linejoin="round"/>
<polygon points="79.42,215.89 83.24,217.05 82.74,190.09 78.89,188.97" fill="#fb6a4e" fill-opacity="0.8" stroke="#000" stroke-width="0.7" stroke-opacity="0.9" stroke-linejoin="round"/>
<polygon points="154.57,224.40 158.57,225.59 158.57,225.06 154.58,223.87" fill="#90ee90" fill-opacity="0.8" stroke="#000" stroke-width="0.7" stroke-opacity="0.9" stroke-linejoin="round"/>
<polygon points="108.39,224.68 112.31,225.87 112.29,222.99 108.37,221.80" fill="#fb6a4e" fill-opacity="0.8" stroke="#000" stroke-width="0.7" stroke-opacity="0.9" stroke-linejoin="round"/>
<polygon points="78.70,195.11 82.41,196.20 80.65,100.94 76.82,99.97" fill="#008000" fill-opacity="0.8" stroke="#000" stroke-width="0.7" stroke-opacity="0.9" stroke-linejoin="round"/>
<polygon points="133.95,225.28 137.92,226.47 137.92,225.02 133.96,223.83" fill="#ff0000" fill-opacity="0.8" stroke="#000" stroke-width="0.7" stroke-opacity="0.9" stroke-linejoin="round"/>
<polygon points="74.66,214.44 78.46,215.60 77.72,178.80 73.87,177.69" fill="#fb6a4e" fill-opacity="0.8" stroke="#000" stroke-width="0.7" stroke-opacity="0.9" stroke-linejoin="round"/>
<polygon points="159.57,225.89 163.58,227.08 163.58,226.73 159.57,225.53" fill="#90ee90" fill-opacity="0.8" stroke="#000" stroke-width="0.7" stroke-opacity="0.9" stroke-linejoin="round"/>
<polygon points="113.29,226.17 117.22,227.36 117.21,224.85 113.27,223.66" fill="#fb6a4e" fill-opacity="0.8" stroke="#000" stroke-width="0.7" stroke-opacity="0.9" stroke-linejoin="round"/>
<polygon points="138.91,226.77 142.89,227.97 142.90,226.90 138.92,225.71" fill="#ff0000" fill-opacity="0.8" stroke="#000" stroke-width="0.7" stroke-opacity="0.9" stroke-linejoin="round"/>
<polygon points="69.92,213.00 73.71,214.15 72.70,168.43 68.85,167.33" fill="#fb6a4e" fill-opacity="0.8" stroke="#000" stroke-width="0.7" stroke-opacity="0.9" stroke-linejoin="round"/>
<polygon points="164.59,227.38 168.61,228.58 168.62,228.31 164.59,227.12" fill="#90ee90" fill-opacity="0.8" stroke="#000" stroke-width="0.7" stroke-opacity="0.9" stroke-linejoin="round"/>
<polygon points="118.21,227.66 122.16,228.86 122.15,226.62 118.20,225.43" fill="#fb6a4e" fill-opacity="0.8" stroke="#000" stroke-width="0.7" stroke-opacity="0.9" stroke-linejoin="round"/>
<polygon points="143.89,228.27 147.89,229.47 147.89,228.69 143.90,227.49" fill="#ff0000" fill-opacity="0.8" stroke="#000" stroke-width="0.7" stroke-opacity="0.9" stroke-linejoin="round"/>
<polygon points="72.72,200.05 76.44,201.16 74.59,112.04 70.75,111.04" fill="#90ee90" fill-opacity="0.8" stroke="#000" stroke-width="0.7" stroke-opacity="0.9" stroke-linejoin="round"/>
<polygon points="78.06,222.60 81.91,223.78 81.52,202.79 77.63,201.64" fill="#ffff00" fill-opacity="0.8" stroke="#000" stroke-width="0.7" stroke-opacity="0.9" stroke-linejoin="round"/>
<polygon points="82.88,224.08 86.75,225.26 86.46,208.04 82.56,206.88" fill="#ffff00" fill-opacity="0.8" stroke="#000" stroke-width="0.7" stroke-opacity="0.9" stroke-linejoin="round"/>
<polygon points="87.72,225.56 91.61,226.75 91.41,213.84 87.51,212.66" fill="#ffff00" fill-opacity="0.8" stroke="#000" stroke-width="0.7" stroke-opacity="0.9" stroke-linejoin="round"/>
<polygon points="71.33,206.47 75.09,207.59 73.56,136.18 69.71,135.14" fill="#ff0000" fill-opacity="0.8" stroke="#000" stroke-width="0.7" stroke-opacity="0.9" stroke-linejoin="round"/>
<polygon points="97.47,228.55 101.38,229.75 101.34,225.66 97.41,224.47" fill="#ffff00" fill-opacity="0.8" stroke="#000" stroke-width="0.7" stroke-opacity="0.9" stroke-linejoin="round"/>
<polygon points="123.15,229.16 127.12,230.36 127.11,228.59 123.15,227.39" fill="#fb6a4e" fill-opacity="0.8" stroke="#000" stroke-width="0.7" stroke-opacity="0.9" stroke-linejoin="round"/>
<polygon points="92.58,227.05 96.48,228.25 96.36,218.56 92.44,217.38" fill="#ffff00" fill-opacity="0.8" stroke="#000" stroke-width="0.7" stroke-opacity="0.9" stroke-linejoin="round"/>
<polygon points="148.89,229.77 152.90,230.98 152.91,230.39 148.90,229.19" fill="#ff0000" fill-opacity="0.8" stroke="#000" stroke-width="0.7" stroke-opacity="0.9" stroke-linejoin="round"/>
<polygon points="102.37,230.05 106.30,231.26 106.27,227.92 102.33,226.72" fill="#ffff00" fill-opacity="0.8" stroke="#000" stroke-width="0.7" stroke-opacity="0.9" stroke-linejoin="round"/>
<polygon points="128.11,230.67 132.10,231.87 132.10,230.47 128.11,229.27" fill="#fb6a4e" fill-opacity="0.8" stroke="#000" stroke-width="0.7" stroke-opacity="0.9" stroke-linejoin="round"/>
<polygon points="73.26,221.13 77.09,222.30 76.45,191.02 72.57,189.88" fill="#ffff00" fill-opacity="0.8" stroke="#000" stroke-width="0.7" stroke-opacity="0.9" stroke-linejoin="round"/>
<polygon points="153.91,231.28 157.94,232.49 157.95,232.10 153.92,230.89" fill="#ff0000" fill-opacity="0.8" stroke="#000" stroke-width="0.7" stroke-opacity="0.9" stroke-linejoin="round"/>
<polygon points="107.29,231.56 111.24,232.77 111.22,229.86 107.27,228.65" fill="#ffff00" fill-opacity="0.8" stroke="#000" stroke-width="0.7" stroke-opacity="0.9" stroke-linejoin="round"/>
<polygon points="133.10,232.18 137.09,233.39 137.10,232.36 133.10,231.15" fill="#fb6a4e" fill-opacity="0.8" stroke="#000" stroke-width="0.7" stroke-opacity="0.9" stroke-linejoin="round"/>
<polygon points="158.96,232.80 163.00,234.01 163.00,233.72 158.96,232.50" fill="#ff0000" fill-opacity="0.8" stroke="#000" stroke-width="0.7" stroke-opacity="0.9" stroke-linejoin="round"/>
<polygon points="68.48,219.66 72.30,220.83 71.34,178.10 67.46,176.98" fill="#ffff00" fill-opacity="0.8" stroke="#000" stroke-width="0.7" stroke-opacity="0.9" stroke-linejoin="round"/>
<polygon points="112.24,233.08 116.20,234.29 116.19,231.70 112.22,230.49" fill="#ffff00" fill-opacity="0.8" stroke="#000" stroke-width="0.7" stroke-opacity="0.9" stroke-linejoin="round"/>
<polygon points="138.10,233.70 142.12,234.92 142.12,234.17 138.10,232.95" fill="#fb6a4e" fill-opacity="0.8" stroke="#000" stroke-width="0.7" stroke-opacity="0.9" stroke-linejoin="round"/>
<polygon points="65.20,211.57 68.97,212.72 67.34,143.83 63.47,142.77" fill="#fb6a4e" fill-opacity="0.8" stroke="#000" stroke-width="0.7" stroke-opacity="0.9" stroke-linejoin="round"/>
<polygon points="71.83,227.94 75.70,229.14 75.26,208.21 71.36,207.04" fill="#ffffe0" fill-opacity="0.8" stroke="#000" stroke-width="0.7" stroke-opacity="0.9" stroke-linejoin="round"/>
<polygon points="76.68,229.44 80.56,230.64 80.23,213.47 76.32,212.29" fill="#ffffe0" fill-opacity="0.8" stroke="#000" stroke-width="0.7" stroke-opacity="0.9" stroke-linejoin="round"/>
<polygon points="81.54,230.95 85.44,232.15 85.22,219.27 81.30,218.08" fill="#ffffe0" fill-opacity="0.8" stroke="#000" stroke-width="0.7" stroke-opacity="0.9" stroke-linejoin="round"/>
<polygon points="91.33,233.98 95.27,235.20 95.21,231.12 91.27,229.91" fill="#ffffe0" fill-opacity="0.8" stroke="#000" stroke-width="0.7" stroke-opacity="0.9" stroke-linejoin="round"/>
<polygon points="117.20,234.60 121.18,235.82 121.18,233.77 117.19,232.55" fill="#ffff00" fill-opacity="0.8" stroke="#000" stroke-width="0.7" stroke-opacity="0.9" stroke-linejoin="round"/>
<polygon points="86.43,232.46 90.34,233.67 90.19,224.01 86.26,222.81" fill="#ffffe0" fill-opacity="0.8" stroke="#000" stroke-width="0.7" stroke-opacity="0.9" stroke-linejoin="round"/>
<polygon points="143.13,235.22 147.16,236.45 147.16,235.88 143.13,234.66" fill="#fb6a4e" fill-opacity="0.8" stroke="#000" stroke-width="0.7" stroke-opacity="0.9" stroke-linejoin="round"/>
<polygon points="63.72,218.20 67.52,219.37 66.23,166.24 62.35,165.14" fill="#ffff00" fill-opacity="0.8" stroke="#000" stroke-width="0.7" stroke-opacity="0.9" stroke-linejoin="round"/>
<polygon points="96.26,235.50 100.21,236.73 100.17,233.40 96.21,232.18" fill="#ffffe0" fill-opacity="0.8" stroke="#000" stroke-width="0.7" stroke-opacity="0.9" stroke-linejoin="round"/>
<polygon points="67.01,226.45 70.86,227.64 70.14,196.44 66.25,195.28" fill="#ffffe0" fill-opacity="0.8" stroke="#000" stroke-width="0.7" stroke-opacity="0.9" stroke-linejoin="round"/>
<polygon points="122.19,236.13 126.19,237.35 126.18,235.73 122.18,234.51" fill="#ffff00" fill-opacity="0.8" stroke="#000" stroke-width="0.7" stroke-opacity="0.9" stroke-linejoin="round"/>
<polygon points="148.17,236.75 152.22,237.98 152.22,237.61 148.17,236.38" fill="#fb6a4e" fill-opacity="0.8" stroke="#000" stroke-width="0.7" stroke-opacity="0.9" stroke-linejoin="round"/>
<polygon points="66.65,205.06 70.39,206.18 68.12,107.94 64.25,106.94" fill="#ff0000" fill-opacity="0.8" stroke="#000" stroke-width="0.7" stroke-opacity="0.9" stroke-linejoin="round"/>
<polygon points="101.20,237.04 105.17,238.27 105.14,235.36 101.17,234.13" fill="#ffffe0" fill-opacity="0.8" stroke="#000" stroke-width="0.7" stroke-opacity="0.9" stroke-linejoin="round"/>
<polygon points="127.19,237.66 131.21,238.89 131.21,237.70 127.19,236.47" fill="#ffff00" fill-opacity="0.8" stroke="#000" stroke-width="0.7" stroke-opacity="0.9" stroke-linejoin="round"/>
<polygon points="153.24,238.29 157.31,239.53 157.31,239.24 153.24,238.01" fill="#fb6a4e" fill-opacity="0.8" stroke="#000" stroke-width="0.7" stroke-opacity="0.9" stroke-linejoin="round"/>
<polygon points="62.21,224.96 66.04,226.15 64.98,183.53 61.08,182.40" fill="#ffffe0" fill-opacity="0.8" stroke="#000" stroke-width="0.7" stroke-opacity="0.9" stroke-linejoin="round"/>
<polygon points="106.17,238.57 110.16,239.81 110.14,237.22 106.15,235.99" fill="#ffffe0" fill-opacity="0.8" stroke="#000" stroke-width="0.7" stroke-opacity="0.9" stroke-linejoin="round"/>
<polygon points="132.22,239.20 136.26,240.44 136.26,239.57 132.22,238.34" fill="#ffff00" fill-opacity="0.8" stroke="#000" stroke-width="0.7" stroke-opacity="0.9" stroke-linejoin="round"/>
<polygon points="111.16,240.12 115.16,241.36 115.15,239.31 111.15,238.07" fill="#ffffe0" fill-opacity="0.8" stroke="#000" stroke-width="0.7" stroke-opacity="0.9" stroke-linejoin="round"/>
<polygon points="57.42,223.48 61.25,224.66 59.83,171.67 55.93,170.55" fill="#ffffe0" fill-opacity="0.8" stroke="#000" stroke-width="0.7" stroke-opacity="0.9" stroke-linejoin="round"/>
<polygon points="137.27,240.75 141.32,242.00 141.33,241.34 137.27,240.10" fill="#ffff00" fill-opacity="0.8" stroke="#000" stroke-width="0.7" stroke-opacity="0.9" stroke-linejoin="round"/>
<polygon points="60.50,210.14 64.25,211.28 61.84,116.55 57.95,115.53" fill="#fb6a4e" fill-opacity="0.8" stroke="#000" stroke-width="0.7" stroke-opacity="0.9" stroke-linejoin="round"/>
<polygon points="116.17,241.67 120.19,242.92 120.18,241.30 116.16,240.05" fill="#ffffe0" fill-opacity="0.8" stroke="#000" stroke-width="0.7" stroke-opacity="0.9" stroke-linejoin="round"/>
<polygon points="142.34,242.31 146.41,243.56 146.42,243.12 142.35,241.87" fill="#ffff00" fill-opacity="0.8" stroke="#000" stroke-width="0.7" stroke-opacity="0.9" stroke-linejoin="round"/>
<polygon points="58.97,216.75 62.76,217.91 60.67,137.75 56.77,136.69" fill="#ffff00" fill-opacity="0.8" stroke="#000" stroke-width="0.7" stroke-opacity="0.9" stroke-linejoin="round"/>
<polygon points="121.20,243.23 125.24,244.48 125.24,243.29 121.20,242.04" fill="#ffffe0" fill-opacity="0.8" stroke="#000" stroke-width="0.7" stroke-opacity="0.9" stroke-linejoin="round"/>
<polygon points="147.44,243.87 151.52,245.12 151.53,244.79 147.44,243.54" fill="#ffff00" fill-opacity="0.8" stroke="#000" stroke-width="0.7" stroke-opacity="0.9" stroke-linejoin="round"/>
<polygon points="126.26,244.80 130.31,246.05 130.31,245.18 126.26,243.93" fill="#ffffe0" fill-opacity="0.8" stroke="#000" stroke-width="0.7" stroke-opacity="0.9" stroke-linejoin="round"/>
<polygon points="131.33,246.37 135.40,247.63 135.40,246.98 131.33,245.72" fill="#ffffe0" fill-opacity="0.8" stroke="#000" stroke-width="0.7" stroke-opacity="0.9" stroke-linejoin="round"/>
<polygon points="136.43,247.95 140.52,249.21 140.52,248.78 136.43,247.51" fill="#ffffe0" fill-opacity="0.8" stroke="#000" stroke-width="0.7" stroke-opacity="0.9" stroke-linejoin="round"/>
<polygon points="52.66,222.00 56.47,223.18 54.18,143.24 50.27,142.16" fill="#ffffe0" fill-opacity="0.8" stroke="#000" stroke-width="0.7" stroke-opacity="0.9" stroke-linejoin="round"/>
<polygon points="141.55,249.53 145.66,250.80 145.66,250.48 141.55,249.21" fill="#ffffe0" fill-opacity="0.8" stroke="#000" stroke-width="0.7" stroke-opacity="0.9" stroke-linejoin="round"/>
<polygon points="54.25,215.30 58.02,216.46 54.95,106.05 51.02,105.03" fill="#ffff00" fill-opacity="0.8" stroke="#000" stroke-width="0.7" stroke-opacity="0.9" stroke-linejoin="round"/>
<polygon points="47.92,220.53 51.71,221.71 48.37,111.60 44.42,110.57" fill="#ffffe0" fill-opacity="0.8" stroke="#000" stroke-width="0.7" stroke-opacity="0.9" stroke-linejoin="round"/>
<line x1="39.43" y1="220.28" x2="162.95" y2="258.66" stroke="#222" stroke-width="0.7"/>
<line x1="162.95" y1="258.66" x2="229.61" y2="191.98" stroke="#222" stroke-width="0.7"/>
<line x1="229.61" y1="191.98" x2="233.93" y2="74.98" stroke="#222" stroke-width="0.7"/>
<line x1="41.78" y1="221.00" x2="39.52" y2="222.86" stroke="#222" stroke-width="0.8"/>
<line x1="60.72" y1="226.89" x2="58.49" y2="228.77" stroke="#222" stroke-width="0.8"/>
<line x1="79.97" y1="232.87" x2="77.78" y2="234.79" stroke="#222" stroke-width="0.8"/>
<line x1="99.56" y1="238.96" x2="97.39" y2="240.91" stroke="#222" stroke-width="0.8"/>
<line x1="119.47" y1="245.15" x2="117.34" y2="247.13" stroke="#222" stroke-width="0.8"/>
<line x1="139.73" y1="251.45" x2="137.64" y2="253.46" stroke="#222" stroke-width="0.8"/>
<line x1="160.34" y1="257.85" x2="158.29" y2="259.90" stroke="#222" stroke-width="0.8"/>
<line x1="164.86" y1="256.75" x2="168.50" y2="257.88" stroke="#222" stroke-width="0.8"/>
<line x1="170.63" y1="250.98" x2="174.25" y2="252.09" stroke="#222" stroke-width="0.8"/>
<line x1="176.31" y1="245.29" x2="179.92" y2="246.39" stroke="#222" stroke-width="0.8"/>
<line x1="181.91" y1="239.69" x2="185.50" y2="240.77" stroke="#222" stroke-width="0.8"/>
<line x1="187.42" y1="234.18" x2="190.99" y2="235.24" stroke="#222" stroke-width="0.8"/>
<line x1="192.86" y1="228.74" x2="196.41" y2="229.79" stroke="#222" stroke-width="0.8"/>
<line x1="198.21" y1="223.38" x2="201.75" y2="224.41" stroke="#222" stroke-width="0.8"/>
<line x1="203.49" y1="218.10" x2="207.00" y2="219.12" stroke="#222" stroke-width="0.8"/>
<line x1="208.69" y1="212.90" x2="212.19" y2="213.90" stroke="#222" stroke-width="0.8"/>
<line x1="213.82" y1="207.77" x2="217.30" y2="208.76" stroke="#222" stroke-width="0.8"/>
<line x1="218.87" y1="202.72" x2="222.33" y2="203.69" stroke="#222" stroke-width="0.8"/>
<line x1="223.85" y1="197.73" x2="227.30" y2="198.69" stroke="#222" stroke-width="0.8"/>
<line x1="228.51" y1="191.98" x2="231.51" y2="191.98" stroke="#222" stroke-width="0.8"/>
<line x1="229.01" y1="178.21" x2="232.01" y2="178.21" stroke="#222" stroke-width="0.8"/>
<line x1="229.53" y1="164.29" x2="232.53" y2="164.29" stroke="#222" stroke-width="0.8"/>
<line x1="230.05" y1="150.23" x2="233.05" y2="150.23" stroke="#222" stroke-width="0.8"/>
<line x1="230.57" y1="136.02" x2="233.57" y2="136.02" stroke="#222" stroke-width="0.8"/>
<line x1="231.11" y1="121.66" x2="234.11" y2="121.66" stroke="#222" stroke-width="0.8"/>
<line x1="231.64" y1="107.15" x2="234.64" y2="107.15" stroke="#222" stroke-width="0.8"/>
<line x1="232.18" y1="92.49" x2="235.18" y2="92.49" stroke="#222" stroke-width="0.8"/>
<line x1="232.73" y1="77.66" x2="235.73" y2="77.66" stroke="#222" stroke-width="0.8"/>
<text transform="translate(3.3,25.9) scale(0.81,1)" font-family="Liberation Serif" font-size="26.5" fill="#000">A</text>
<text x="54.1" y="44.5" font-size="10.2" fill="#111" textLength="158.5" lengthAdjust="spacingAndGlyphs">The distribution of length in per 5k (nt)</text>
<text x="240.61" y="196.93" font-size="8.2" fill="#000" stroke="#000" stroke-width="0.2" text-anchor="middle" textLength="3.8" lengthAdjust="spacingAndGlyphs">0</text>
<text x="241.11" y="183.16" font-size="8.2" fill="#000" stroke="#000" stroke-width="0.2" text-anchor="middle" textLength="11.8" lengthAdjust="spacingAndGlyphs">100</text>
<text x="241.63" y="169.24" font-size="8.2" fill="#000" stroke="#000" stroke-width="0.2" text-anchor="middle" textLength="11.8" lengthAdjust="spacingAndGlyphs">200</text>
<text x="242.15" y="155.18" font-size="8.2" fill="#000" stroke="#000" stroke-width="0.2" text-anchor="middle" textLength="11.8" lengthAdjust="spacingAndGlyphs">300</text>
<text x="242.67" y="140.97" font-size="8.2" fill="#000" stroke="#000" stroke-width="0.2" text-anchor="middle" textLength="11.8" lengthAdjust="spacingAndGlyphs">400</text>
<text x="243.21" y="126.61" font-size="8.2" fill="#000" stroke="#000" stroke-width="0.2" text-anchor="middle" textLength="11.8" lengthAdjust="spacingAndGlyphs">500</text>
<text x="243.74" y="112.10" font-size="8.2" fill="#000" stroke="#000" stroke-width="0.2" text-anchor="middle" textLength="11.8" lengthAdjust="spacingAndGlyphs">600</text>
<text x="244.28" y="97.44" font-size="8.2" fill="#000" stroke="#000" stroke-width="0.2" text-anchor="middle" textLength="11.8" lengthAdjust="spacingAndGlyphs">700</text>
<text x="244.83" y="82.61" font-size="8.2" fill="#000" stroke="#000" stroke-width="0.2" text-anchor="middle" textLength="11.8" lengthAdjust="spacingAndGlyphs">800</text>
<text transform="translate(258.3,143.7) rotate(-90)" font-size="8.4" fill="#111" textLength="22.4" lengthAdjust="spacingAndGlyphs">count</text>
<text transform="translate(38.00,227.92) rotate(90)" font-size="7.4" fill="#000" stroke="#000" stroke-width="0.2" textLength="4.5" lengthAdjust="spacingAndGlyphs">0</text>
<text transform="translate(55.80,233.90) rotate(90)" font-size="7.4" fill="#000" stroke="#000" stroke-width="0.2" textLength="18.2" lengthAdjust="spacingAndGlyphs">2000</text>
<text transform="translate(74.90,239.40) rotate(90)" font-size="7.4" fill="#000" stroke="#000" stroke-width="0.2" textLength="18.2" lengthAdjust="spacingAndGlyphs">4000</text>
<text transform="translate(94.90,245.90) rotate(90)" font-size="7.4" fill="#000" stroke="#000" stroke-width="0.2" textLength="18.2" lengthAdjust="spacingAndGlyphs">6000</text>
<text transform="translate(114.40,252.10) rotate(90)" font-size="7.4" fill="#000" stroke="#000" stroke-width="0.2" textLength="18.2" lengthAdjust="spacingAndGlyphs">8000</text>
<text transform="translate(134.90,259.32) rotate(90)" font-size="7.4" fill="#000" stroke="#000" stroke-width="0.2" textLength="22.8" lengthAdjust="spacingAndGlyphs">10000</text>
<text transform="translate(155.10,266.73) rotate(90)" font-size="7.4" fill="#000" stroke="#000" stroke-width="0.2" textLength="22.8" lengthAdjust="spacingAndGlyphs">12000</text>
<text transform="translate(73.2,271.8) rotate(22) skewX(-6)" font-size="7.4" fill="#000" stroke="#000" stroke-width="0.15" textLength="30.4" lengthAdjust="spacingAndGlyphs">length (nt)</text>
<text transform="translate(171.33,266.48) rotate(90)" font-size="6.9" fill="#111" textLength="34.3" lengthAdjust="spacingAndGlyphs">MM_F_T_1</text>
<text transform="translate(176.60,261.10) rotate(90)" font-size="6.9" fill="#111" textLength="34.3" lengthAdjust="spacingAndGlyphs">MM_F_T_2</text>
<text transform="translate(181.87,255.72) rotate(90)" font-size="6.9" fill="#111" textLength="34.3" lengthAdjust="spacingAndGlyphs">MM_F_T_3</text>
<text transform="translate(187.14,250.34) rotate(90)" font-size="6.9" fill="#111" textLength="34.3" lengthAdjust="spacingAndGlyphs">ww_F_T_1</text>
<text transform="translate(192.41,244.96) rotate(90)" font-size="6.9" fill="#111" textLength="34.3" lengthAdjust="spacingAndGlyphs">ww_F_T_2</text>
<text transform="translate(197.68,239.58) rotate(90)" font-size="6.9" fill="#111" textLength="34.3" lengthAdjust="spacingAndGlyphs">ww_F_T_3</text>
<text transform="translate(202.95,234.20) rotate(90)" font-size="6.9" fill="#111" textLength="34.3" lengthAdjust="spacingAndGlyphs">MM_L_T_1</text>
<text transform="translate(208.22,228.82) rotate(90)" font-size="6.9" fill="#111" textLength="34.3" lengthAdjust="spacingAndGlyphs">MM_L_T_2</text>
<text transform="translate(213.49,223.44) rotate(90)" font-size="6.9" fill="#111" textLength="34.3" lengthAdjust="spacingAndGlyphs">MM_L_T_3</text>
<text transform="translate(218.76,218.06) rotate(90)" font-size="6.9" fill="#111" textLength="34.3" lengthAdjust="spacingAndGlyphs">ww_L_T_1</text>
<text transform="translate(224.03,212.68) rotate(90)" font-size="6.9" fill="#111" textLength="34.3" lengthAdjust="spacingAndGlyphs">ww_L_T_2</text>
<text transform="translate(229.30,207.30) rotate(90)" font-size="6.9" fill="#111" textLength="34.3" lengthAdjust="spacingAndGlyphs">ww_L_T_3</text>
<line x1="316.6" y1="17.5" x2="316.6" y2="277.9" stroke="#555" stroke-width="0.9"/>
<line x1="316.20000000000005" y1="277.5" x2="501.7" y2="277.5" stroke="#555" stroke-width="0.9"/>
<line x1="314.20000000000005" y1="265.70" x2="316.6" y2="265.70" stroke="#555" stroke-width="0.6"/>
<text x="313.0" y="267.70" font-size="5.6" fill="#8c8c8c" text-anchor="end">0</text>
<line x1="314.20000000000005" y1="213.30" x2="316.6" y2="213.30" stroke="#555" stroke-width="0.6"/>
<text x="313.0" y="215.30" font-size="5.6" fill="#8c8c8c" text-anchor="end">1</text>
<line x1="314.20000000000005" y1="160.90" x2="316.6" y2="160.90" stroke="#555" stroke-width="0.6"/>
<text x="313.0" y="162.90" font-size="5.6" fill="#8c8c8c" text-anchor="end">2</text>
<line x1="314.20000000000005" y1="108.50" x2="316.6" y2="108.50" stroke="#555" stroke-width="0.6"/>
<text x="313.0" y="110.50" font-size="5.6" fill="#8c8c8c" text-anchor="end">3</text>
<line x1="314.20000000000005" y1="56.10" x2="316.6" y2="56.10" stroke="#555" stroke-width="0.6"/>
<text x="313.0" y="58.10" font-size="5.6" fill="#8c8c8c" text-anchor="end">4</text>
<line x1="325.60" y1="89.4" x2="325.60" y2="133.2" stroke="#333" stroke-width="0.55"/>
<line x1="325.60" y1="163.3" x2="325.60" y2="178.5" stroke="#333" stroke-width="0.55"/>
<rect x="319.90" y="133.2" width="11.4" height="30.10" fill="#F8766D" stroke="#333" stroke-width="0.6"/>
<line x1="319.90" y1="147.5" x2="331.30" y2="147.5" stroke="#333" stroke-width="1.2"/>
<circle cx="325.60" cy="41.8" r="1.35" fill="#000"/>
<circle cx="325.60" cy="49.4" r="1.35" fill="#000"/>
<circle cx="325.60" cy="56.1" r="1.35" fill="#000"/>
<circle cx="325.60" cy="58.5" r="1.35" fill="#000"/>
<circle cx="325.60" cy="64.2" r="1.35" fill="#000"/>
<circle cx="325.60" cy="66" r="1.35" fill="#000"/>
<circle cx="325.60" cy="68.2" r="1.35" fill="#000"/>
<rect x="324.25" y="70.3" width="2.7" height="20.30" rx="1.35" fill="#000"/>
<circle cx="325.60" cy="265.7" r="1.35" fill="#000"/>
<line x1="325.60" y1="277.5" x2="325.60" y2="280.0" stroke="#555" stroke-width="0.6"/>
<text transform="translate(323.50,284.3) scale(0.85,1) rotate(90)" font-size="7.7" fill="#000" stroke="#000" stroke-width="0.12" textLength="41" lengthAdjust="spacingAndGlyphs">MM_F_T_1</text>
<line x1="340.79" y1="87.0" x2="340.79" y2="132.8" stroke="#333" stroke-width="0.55"/>
<line x1="340.79" y1="164.4" x2="340.79" y2="179.8" stroke="#333" stroke-width="0.55"/>
<rect x="335.09" y="132.8" width="11.4" height="31.60" fill="#DE8C00" stroke="#333" stroke-width="0.6"/>
<line x1="335.09" y1="148.6" x2="346.49" y2="148.6" stroke="#333" stroke-width="1.2"/>
<circle cx="340.79" cy="46.2" r="1.35" fill="#000"/>
<circle cx="340.79" cy="48.5" r="1.35" fill="#000"/>
<circle cx="340.79" cy="57" r="1.35" fill="#000"/>
<circle cx="340.79" cy="59.2" r="1.35" fill="#000"/>
<rect x="339.44" y="61.699999999999996" width="2.7" height="26.50" rx="1.35" fill="#000"/>
<circle cx="340.79" cy="265.7" r="1.35" fill="#000"/>
<line x1="340.79" y1="277.5" x2="340.79" y2="280.0" stroke="#555" stroke-width="0.6"/>
<text transform="translate(338.69,284.3) scale(0.85,1) rotate(90)" font-size="7.7" fill="#000" stroke="#000" stroke-width="0.12" textLength="41" lengthAdjust="spacingAndGlyphs">MM_F_T_2</text>
<line x1="355.98" y1="80.6" x2="355.98" y2="131.0" stroke="#333" stroke-width="0.55"/>
<rect x="350.28" y="131.0" width="11.4" height="33.60" fill="#B79F00" stroke="#333" stroke-width="0.6"/>
<line x1="350.28" y1="149.3" x2="361.68" y2="149.3" stroke="#333" stroke-width="1.2"/>
<circle cx="355.98" cy="43.1" r="1.35" fill="#000"/>
<circle cx="355.98" cy="53.3" r="1.35" fill="#000"/>
<circle cx="355.98" cy="61.5" r="1.35" fill="#000"/>
<rect x="354.63" y="64.0" width="2.7" height="17.80" rx="1.35" fill="#000"/>
<circle cx="355.98" cy="265.7" r="1.35" fill="#000"/>
<line x1="355.98" y1="277.5" x2="355.98" y2="280.0" stroke="#555" stroke-width="0.6"/>
<text transform="translate(353.88,284.3) scale(0.85,1) rotate(90)" font-size="7.7" fill="#000" stroke="#000" stroke-width="0.12" textLength="41" lengthAdjust="spacingAndGlyphs">MM_F_T_3</text>
<line x1="371.17" y1="86.5" x2="371.17" y2="133.2" stroke="#333" stroke-width="0.55"/>
<line x1="371.17" y1="164.4" x2="371.17" y2="173.6" stroke="#333" stroke-width="0.55"/>
<rect x="365.47" y="133.2" width="11.4" height="31.20" fill="#7CAE00" stroke="#333" stroke-width="0.6"/>
<line x1="365.47" y1="148.8" x2="376.87" y2="148.8" stroke="#333" stroke-width="1.2"/>
<circle cx="371.17" cy="29.1" r="1.35" fill="#000"/>
<circle cx="371.17" cy="50" r="1.35" fill="#000"/>
<circle cx="371.17" cy="52.1" r="1.35" fill="#000"/>
<circle cx="371.17" cy="64" r="1.35" fill="#000"/>
<rect x="369.82" y="65.8" width="2.7" height="21.90" rx="1.35" fill="#000"/>
<circle cx="371.17" cy="265.7" r="1.35" fill="#000"/>
<line x1="371.17" y1="277.5" x2="371.17" y2="280.0" stroke="#555" stroke-width="0.6"/>
<text transform="translate(369.07,284.3) scale(0.85,1) rotate(90)" font-size="7.7" fill="#000" stroke="#000" stroke-width="0.12" textLength="41" lengthAdjust="spacingAndGlyphs">MM_L_T_1</text>
<line x1="386.36" y1="85.2" x2="386.36" y2="132.3" stroke="#333" stroke-width="0.55"/>
<rect x="380.66" y="132.3" width="11.4" height="31.00" fill="#00BA38" stroke="#333" stroke-width="0.6"/>
<line x1="380.66" y1="147.5" x2="392.06" y2="147.5" stroke="#333" stroke-width="1.2"/>
<circle cx="386.36" cy="48.5" r="1.35" fill="#000"/>
<circle cx="386.36" cy="50.5" r="1.35" fill="#000"/>
<circle cx="386.36" cy="52.3" r="1.35" fill="#000"/>
<circle cx="386.36" cy="55.4" r="1.35" fill="#000"/>
<circle cx="386.36" cy="56.8" r="1.35" fill="#000"/>
<circle cx="386.36" cy="60.4" r="1.35" fill="#000"/>
<circle cx="386.36" cy="61.8" r="1.35" fill="#000"/>
<rect x="385.01" y="63.599999999999994" width="2.7" height="22.80" rx="1.35" fill="#000"/>
<circle cx="386.36" cy="265.7" r="1.35" fill="#000"/>
<line x1="386.36" y1="277.5" x2="386.36" y2="280.0" stroke="#555" stroke-width="0.6"/>
<text transform="translate(384.26,284.3) scale(0.85,1) rotate(90)" font-size="7.7" fill="#000" stroke="#000" stroke-width="0.12" textLength="41" lengthAdjust="spacingAndGlyphs">MM_L_T_2</text>
<line x1="401.55" y1="79.2" x2="401.55" y2="133.7" stroke="#333" stroke-width="0.55"/>
<rect x="395.85" y="133.7" width="11.4" height="36.30" fill="#00C08B" stroke="#333" stroke-width="0.6"/>
<line x1="395.85" y1="149.1" x2="407.25" y2="149.1" stroke="#333" stroke-width="1.2"/>
<circle cx="401.55" cy="44.2" r="1.35" fill="#000"/>
<circle cx="401.55" cy="55" r="1.35" fill="#000"/>
<circle cx="401.55" cy="58.2" r="1.35" fill="#000"/>
<circle cx="401.55" cy="66" r="1.35" fill="#000"/>
<rect x="400.20" y="67.1" width="2.7" height="13.30" rx="1.35" fill="#000"/>
<circle cx="401.55" cy="265.7" r="1.35" fill="#000"/>
<line x1="401.55" y1="277.5" x2="401.55" y2="280.0" stroke="#555" stroke-width="0.6"/>
<text transform="translate(399.45,284.3) scale(0.85,1) rotate(90)" font-size="7.7" fill="#000" stroke="#000" stroke-width="0.12" textLength="41" lengthAdjust="spacingAndGlyphs">MM_L_T_3</text>
<line x1="416.74" y1="29.5" x2="416.74" y2="133.2" stroke="#333" stroke-width="0.55"/>
<rect x="411.04" y="133.2" width="11.4" height="132.50" fill="#00BFC4" stroke="#333" stroke-width="0.6"/>
<line x1="411.04" y1="148.6" x2="422.44" y2="148.6" stroke="#333" stroke-width="1.2"/>
<line x1="416.74" y1="277.5" x2="416.74" y2="280.0" stroke="#555" stroke-width="0.6"/>
<text transform="translate(414.64,284.3) scale(0.85,1) rotate(90)" font-size="7.7" fill="#000" stroke="#000" stroke-width="0.12" textLength="41" lengthAdjust="spacingAndGlyphs">ww_F_T_1</text>
<line x1="431.93" y1="86.5" x2="431.93" y2="133.7" stroke="#333" stroke-width="0.55"/>
<rect x="426.23" y="133.7" width="11.4" height="31.20" fill="#00B4F0" stroke="#333" stroke-width="0.6"/>
<line x1="426.23" y1="149.3" x2="437.63" y2="149.3" stroke="#333" stroke-width="1.2"/>
<circle cx="431.93" cy="38.8" r="1.35" fill="#000"/>
<circle cx="431.93" cy="41.9" r="1.35" fill="#000"/>
<circle cx="431.93" cy="48.5" r="1.35" fill="#000"/>
<rect x="430.58" y="53.8" width="2.7" height="33.90" rx="1.35" fill="#000"/>
<circle cx="431.93" cy="265.7" r="1.35" fill="#000"/>
<line x1="431.93" y1="277.5" x2="431.93" y2="280.0" stroke="#555" stroke-width="0.6"/>
<text transform="translate(429.83,284.3) scale(0.85,1) rotate(90)" font-size="7.7" fill="#000" stroke="#000" stroke-width="0.12" textLength="41" lengthAdjust="spacingAndGlyphs">ww_F_T_2</text>
<line x1="447.12" y1="84.8" x2="447.12" y2="133.7" stroke="#333" stroke-width="0.55"/>
<line x1="447.12" y1="166.7" x2="447.12" y2="175.4" stroke="#333" stroke-width="0.55"/>
<rect x="441.42" y="133.7" width="11.4" height="33.00" fill="#619CFF" stroke="#333" stroke-width="0.6"/>
<line x1="441.42" y1="147.7" x2="452.82" y2="147.7" stroke="#333" stroke-width="1.2"/>
<circle cx="447.12" cy="37.4" r="1.35" fill="#000"/>
<circle cx="447.12" cy="54.6" r="1.35" fill="#000"/>
<circle cx="447.12" cy="56.3" r="1.35" fill="#000"/>
<circle cx="447.12" cy="60.5" r="1.35" fill="#000"/>
<rect x="445.77" y="62.3" width="2.7" height="23.70" rx="1.35" fill="#000"/>
<circle cx="447.12" cy="265.7" r="1.35" fill="#000"/>
<line x1="447.12" y1="277.5" x2="447.12" y2="280.0" stroke="#555" stroke-width="0.6"/>
<text transform="translate(445.02,284.3) scale(0.85,1) rotate(90)" font-size="7.7" fill="#000" stroke="#000" stroke-width="0.12" textLength="41" lengthAdjust="spacingAndGlyphs">ww_F_T_3</text>
<line x1="462.31" y1="52.6" x2="462.31" y2="132.9" stroke="#333" stroke-width="0.55"/>
<rect x="456.61" y="132.9" width="11.4" height="132.80" fill="#C77CFF" stroke="#333" stroke-width="0.6"/>
<line x1="456.61" y1="144.1" x2="468.01" y2="144.1" stroke="#333" stroke-width="1.2"/>
<line x1="462.31" y1="277.5" x2="462.31" y2="280.0" stroke="#555" stroke-width="0.6"/>
<text transform="translate(460.21,284.3) scale(0.85,1) rotate(90)" font-size="7.7" fill="#000" stroke="#000" stroke-width="0.12" textLength="41" lengthAdjust="spacingAndGlyphs">ww_L_T_1</text>
<line x1="477.50" y1="84.8" x2="477.50" y2="134.1" stroke="#333" stroke-width="0.55"/>
<line x1="477.50" y1="167.0" x2="477.50" y2="175.8" stroke="#333" stroke-width="0.55"/>
<rect x="471.80" y="134.1" width="11.4" height="32.90" fill="#F564E3" stroke="#333" stroke-width="0.6"/>
<line x1="471.80" y1="148.0" x2="483.20" y2="148.0" stroke="#333" stroke-width="1.2"/>
<circle cx="477.50" cy="33.3" r="1.35" fill="#000"/>
<circle cx="477.50" cy="37.4" r="1.35" fill="#000"/>
<rect x="476.15" y="55.5" width="2.7" height="30.50" rx="1.35" fill="#000"/>
<circle cx="477.50" cy="265.7" r="1.35" fill="#000"/>
<line x1="477.50" y1="277.5" x2="477.50" y2="280.0" stroke="#555" stroke-width="0.6"/>
<text transform="translate(475.40,284.3) scale(0.85,1) rotate(90)" font-size="7.7" fill="#000" stroke="#000" stroke-width="0.12" textLength="41" lengthAdjust="spacingAndGlyphs">ww_L_T_2</text>
<line x1="492.69" y1="85.7" x2="492.69" y2="132.8" stroke="#333" stroke-width="0.55"/>
<line x1="492.69" y1="164.0" x2="492.69" y2="173.0" stroke="#333" stroke-width="0.55"/>
<rect x="486.99" y="132.8" width="11.4" height="31.20" fill="#FF64B0" stroke="#333" stroke-width="0.6"/>
<line x1="486.99" y1="148.6" x2="498.39" y2="148.6" stroke="#333" stroke-width="1.2"/>
<circle cx="492.69" cy="33.8" r="1.35" fill="#000"/>
<circle cx="492.69" cy="52.1" r="1.35" fill="#000"/>
<circle cx="492.69" cy="53.8" r="1.35" fill="#000"/>
<circle cx="492.69" cy="61" r="1.35" fill="#000"/>
<rect x="491.34" y="63.5" width="2.7" height="23.40" rx="1.35" fill="#000"/>
<circle cx="492.69" cy="265.7" r="1.35" fill="#000"/>
<line x1="492.69" y1="277.5" x2="492.69" y2="280.0" stroke="#555" stroke-width="0.6"/>
<text transform="translate(490.59,284.3) scale(0.85,1) rotate(90)" font-size="7.7" fill="#000" stroke="#000" stroke-width="0.12" textLength="41" lengthAdjust="spacingAndGlyphs">ww_L_T_3</text>
<text x="383.1" y="15" font-size="8.3" fill="#222" textLength="51.9" lengthAdjust="spacingAndGlyphs">TPM distribution</text>
<text transform="translate(308.6,169.7) rotate(-90)" font-size="7" fill="#222" textLength="45" lengthAdjust="spacingAndGlyphs">log10(TPM+1)</text>
<text transform="translate(288.0,25.4) scale(0.83,1)" font-family="Liberation Serif" font-size="26.2" fill="#000">B</text>
<text x="509" y="86.1" font-size="5.6" font-weight="bold" fill="#000" stroke="#000" stroke-width="0.1" textLength="14.8" lengthAdjust="spacingAndGlyphs">Group</text>
<line x1="513.5" y1="89.45" x2="513.5" y2="97.85" stroke="#333" stroke-width="0.5"/>
<rect x="510.1" y="91.35" width="6.8" height="4.6" fill="#F8766D" stroke="#333" stroke-width="0.5"/>
<line x1="510.1" y1="93.65" x2="516.9" y2="93.65" stroke="#333" stroke-width="0.8"/>
<text x="519" y="95.55" font-size="5.1" fill="#111" stroke="#111" stroke-width="0.08" textLength="24.5" lengthAdjust="spacingAndGlyphs">MM_F_T_1</text>
<line x1="513.5" y1="99.80" x2="513.5" y2="108.20" stroke="#333" stroke-width="0.5"/>
<rect x="510.1" y="101.70" width="6.8" height="4.6" fill="#DE8C00" stroke="#333" stroke-width="0.5"/>
<line x1="510.1" y1="104.00" x2="516.9" y2="104.00" stroke="#333" stroke-width="0.8"/>
<text x="519" y="105.90" font-size="5.1" fill="#111" stroke="#111" stroke-width="0.08" textLength="24.5" lengthAdjust="spacingAndGlyphs">MM_F_T_2</text>
<line x1="513.5" y1="110.15" x2="513.5" y2="118.55" stroke="#333" stroke-width="0.5"/>
<rect x="510.1" y="112.05" width="6.8" height="4.6" fill="#B79F00" stroke="#333" stroke-width="0.5"/>
<line x1="510.1" y1="114.35" x2="516.9" y2="114.35" stroke="#333" stroke-width="0.8"/>
<text x="519" y="116.25" font-size="5.1" fill="#111" stroke="#111" stroke-width="0.08" textLength="24.5" lengthAdjust="spacingAndGlyphs">MM_F_T_3</text>
<line x1="513.5" y1="120.50" x2="513.5" y2="128.90" stroke="#333" stroke-width="0.5"/>
<rect x="510.1" y="122.40" width="6.8" height="4.6" fill="#7CAE00" stroke="#333" stroke-width="0.5"/>
<line x1="510.1" y1="124.70" x2="516.9" y2="124.70" stroke="#333" stroke-width="0.8"/>
<text x="519" y="126.60" font-size="5.1" fill="#111" stroke="#111" stroke-width="0.08" textLength="24.5" lengthAdjust="spacingAndGlyphs">ww_F_T_1</text>
<line x1="513.5" y1="130.85" x2="513.5" y2="139.25" stroke="#333" stroke-width="0.5"/>
<rect x="510.1" y="132.75" width="6.8" height="4.6" fill="#00BA38" stroke="#333" stroke-width="0.5"/>
<line x1="510.1" y1="135.05" x2="516.9" y2="135.05" stroke="#333" stroke-width="0.8"/>
<text x="519" y="136.95" font-size="5.1" fill="#111" stroke="#111" stroke-width="0.08" textLength="24.5" lengthAdjust="spacingAndGlyphs">ww_F_T_2</text>
<line x1="513.5" y1="141.20" x2="513.5" y2="149.60" stroke="#333" stroke-width="0.5"/>
<rect x="510.1" y="143.10" width="6.8" height="4.6" fill="#00C08B" stroke="#333" stroke-width="0.5"/>
<line x1="510.1" y1="145.40" x2="516.9" y2="145.40" stroke="#333" stroke-width="0.8"/>
<text x="519" y="147.30" font-size="5.1" fill="#111" stroke="#111" stroke-width="0.08" textLength="24.5" lengthAdjust="spacingAndGlyphs">ww_F_T_3</text>
<line x1="513.5" y1="151.55" x2="513.5" y2="159.95" stroke="#333" stroke-width="0.5"/>
<rect x="510.1" y="153.45" width="6.8" height="4.6" fill="#00BFC4" stroke="#333" stroke-width="0.5"/>
<line x1="510.1" y1="155.75" x2="516.9" y2="155.75" stroke="#333" stroke-width="0.8"/>
<text x="519" y="157.65" font-size="5.1" fill="#111" stroke="#111" stroke-width="0.08" textLength="24.5" lengthAdjust="spacingAndGlyphs">MM_L_T_1</text>
<line x1="513.5" y1="161.90" x2="513.5" y2="170.30" stroke="#333" stroke-width="0.5"/>
<rect x="510.1" y="163.80" width="6.8" height="4.6" fill="#00B4F0" stroke="#333" stroke-width="0.5"/>
<line x1="510.1" y1="166.10" x2="516.9" y2="166.10" stroke="#333" stroke-width="0.8"/>
<text x="519" y="168.00" font-size="5.1" fill="#111" stroke="#111" stroke-width="0.08" textLength="24.5" lengthAdjust="spacingAndGlyphs">MM_L_T_2</text>
<line x1="513.5" y1="172.25" x2="513.5" y2="180.65" stroke="#333" stroke-width="0.5"/>
<rect x="510.1" y="174.15" width="6.8" height="4.6" fill="#619CFF" stroke="#333" stroke-width="0.5"/>
<line x1="510.1" y1="176.45" x2="516.9" y2="176.45" stroke="#333" stroke-width="0.8"/>
<text x="519" y="178.35" font-size="5.1" fill="#111" stroke="#111" stroke-width="0.08" textLength="24.5" lengthAdjust="spacingAndGlyphs">MM_L_T_3</text>
<line x1="513.5" y1="182.60" x2="513.5" y2="191.00" stroke="#333" stroke-width="0.5"/>
<rect x="510.1" y="184.50" width="6.8" height="4.6" fill="#C77CFF" stroke="#333" stroke-width="0.5"/>
<line x1="510.1" y1="186.80" x2="516.9" y2="186.80" stroke="#333" stroke-width="0.8"/>
<text x="519" y="188.70" font-size="5.1" fill="#111" stroke="#111" stroke-width="0.08" textLength="24.5" lengthAdjust="spacingAndGlyphs">ww_L_T_1</text>
<line x1="513.5" y1="192.95" x2="513.5" y2="201.35" stroke="#333" stroke-width="0.5"/>
<rect x="510.1" y="194.85" width="6.8" height="4.6" fill="#F564E3" stroke="#333" stroke-width="0.5"/>
<line x1="510.1" y1="197.15" x2="516.9" y2="197.15" stroke="#333" stroke-width="0.8"/>
<text x="519" y="199.05" font-size="5.1" fill="#111" stroke="#111" stroke-width="0.08" textLength="24.5" lengthAdjust="spacingAndGlyphs">ww_L_T_2</text>
<line x1="513.5" y1="203.30" x2="513.5" y2="211.70" stroke="#333" stroke-width="0.5"/>
<rect x="510.1" y="205.20" width="6.8" height="4.6" fill="#FF64B0" stroke="#333" stroke-width="0.5"/>
<line x1="510.1" y1="207.50" x2="516.9" y2="207.50" stroke="#333" stroke-width="0.8"/>
<text x="519" y="209.40" font-size="5.1" fill="#111" stroke="#111" stroke-width="0.08" textLength="24.5" lengthAdjust="spacingAndGlyphs">ww_L_T_3</text>
</svg>
</body></html>
